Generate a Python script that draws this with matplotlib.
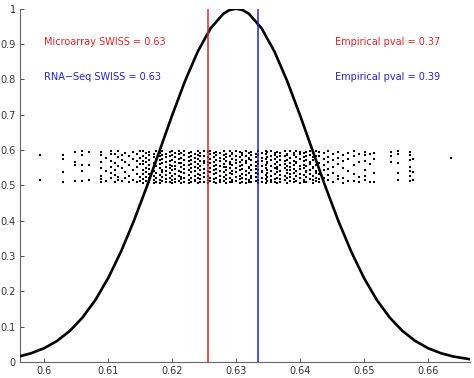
import matplotlib.pyplot as plt

# fitted curve
curve_x = [0.5962, 0.598, 0.600, 0.602, 0.604, 0.606, 0.608, 0.610, 0.612, 0.614,
           0.616, 0.618, 0.620, 0.622, 0.624, 0.626, 0.628, 0.629, 0.630, 0.631,
           0.632, 0.634, 0.636, 0.638, 0.640, 0.642, 0.644, 0.646, 0.648, 0.650,
           0.652, 0.654, 0.656, 0.658, 0.660, 0.662, 0.664, 0.6666]
curve_y = [0.0165, 0.0253, 0.0395, 0.0599, 0.0883, 0.1264, 0.1758, 0.2378, 0.3125, 0.3989,
           0.4947, 0.5963, 0.6983, 0.7947, 0.8787, 0.9441, 0.9857, 0.9964, 1.0, 0.9964,
           0.9857, 0.9441, 0.8787, 0.7947, 0.6983, 0.5963, 0.4947, 0.3989, 0.3125, 0.2378,
           0.1758, 0.1264, 0.0883, 0.0599, 0.0395, 0.0253, 0.0157, 0.0081]

micro_swiss = 0.6256
rnaseq_swiss = 0.6334

# permutation SWISS values, one list of jittered y values per x column
dot_cols = [0.5994, 0.6030, 0.6048, 0.6059, 0.6070, 0.6088, 0.6097, 0.6104, 0.6110, 0.6116,
            0.6121, 0.6127, 0.6133, 0.6139, 0.6145, 0.6150,
            0.6155, 0.6159, 0.6164, 0.6171, 0.6175, 0.6181, 0.6184, 0.6190, 0.6196, 0.6199,
            0.6204, 0.6211, 0.6214, 0.6219, 0.6226, 0.6229, 0.6235, 0.6241, 0.6244, 0.6250,
            0.6256, 0.6259, 0.6266, 0.6269, 0.6275, 0.6281, 0.6284, 0.6291, 0.6294, 0.6300,
            0.6306, 0.6309, 0.6316, 0.6320, 0.6324, 0.6331, 0.6334, 0.6340, 0.6346, 0.6349,
            0.6355, 0.6361, 0.6364, 0.6369, 0.6376, 0.6379, 0.6385, 0.6391, 0.6394, 0.6400,
            0.6406, 0.6409, 0.6415, 0.6421, 0.6425,
            0.6430, 0.6437, 0.6444, 0.6452, 0.6460, 0.6467, 0.6475, 0.6484, 0.6492, 0.6502,
            0.6510, 0.6515, 0.6542, 0.6553, 0.6572, 0.6577, 0.6636]
dot_ys = [
    [0.585, 0.515],
    [0.585, 0.574, 0.537, 0.511],
    [0.594, 0.565, 0.557, 0.512],
    [0.597, 0.585, 0.557, 0.540, 0.512],
    [0.594, 0.557, 0.514],
    [0.594, 0.585, 0.565, 0.548, 0.528, 0.517, 0.509],
    [0.578, 0.540, 0.512],
    [0.597, 0.588, 0.570, 0.552, 0.535, 0.520],
    [0.590, 0.562, 0.545, 0.530, 0.510],
    [0.596, 0.580, 0.556, 0.524, 0.515],
    [0.587, 0.571, 0.549, 0.512],
    [0.592, 0.566, 0.538, 0.520],
    [0.583, 0.559, 0.527, 0.509],
    [0.595, 0.575, 0.543, 0.516],
    [0.589, 0.568, 0.551, 0.533, 0.511],
    [0.597, 0.578, 0.560, 0.524, 0.513],
    # dense part
    [0.597, 0.583, 0.570, 0.561, 0.544, 0.531, 0.518, 0.508],
    [0.591, 0.578, 0.566, 0.550, 0.538, 0.524, 0.512],
    [0.595, 0.586, 0.573, 0.557, 0.547, 0.533, 0.520, 0.509],
    [0.589, 0.580, 0.563, 0.552, 0.541, 0.527, 0.514, 0.507],
    [0.596, 0.576, 0.568, 0.555, 0.536, 0.522, 0.511],
    [0.593, 0.584, 0.571, 0.560, 0.548, 0.529, 0.516, 0.508],
    [0.598, 0.587, 0.574, 0.562, 0.545, 0.539, 0.525, 0.513],
    [0.590, 0.579, 0.565, 0.553, 0.542, 0.530, 0.519, 0.509],
    [0.594, 0.582, 0.569, 0.558, 0.549, 0.534, 0.521, 0.510],
    [0.597, 0.585, 0.572, 0.556, 0.543, 0.528, 0.515, 0.507],
    [0.592, 0.581, 0.567, 0.554, 0.546, 0.532, 0.517, 0.510],
    [0.596, 0.588, 0.575, 0.563, 0.540, 0.526, 0.513],
    [0.591, 0.577, 0.564, 0.551, 0.539, 0.523, 0.518, 0.508],
    [0.598, 0.586, 0.571, 0.559, 0.547, 0.535, 0.522, 0.511],
    [0.593, 0.580, 0.568, 0.557, 0.544, 0.529, 0.514, 0.507],
    [0.595, 0.583, 0.573, 0.561, 0.548, 0.537, 0.520, 0.509],
    [0.590, 0.578, 0.566, 0.552, 0.541, 0.527, 0.516, 0.512],
    [0.597, 0.587, 0.574, 0.560, 0.550, 0.533, 0.521, 0.508],
    [0.592, 0.582, 0.569, 0.555, 0.543, 0.530, 0.517, 0.510],
    [0.596, 0.584, 0.570, 0.562, 0.546, 0.536, 0.524, 0.511],
    [0.594, 0.579, 0.567, 0.558, 0.542, 0.528, 0.515, 0.507],
    [0.598, 0.588, 0.576, 0.563, 0.549, 0.538, 0.522, 0.512],
    [0.591, 0.581, 0.565, 0.554, 0.545, 0.531, 0.519, 0.509],
    [0.595, 0.585, 0.572, 0.559, 0.547, 0.534, 0.520, 0.508],
    [0.593, 0.577, 0.568, 0.556, 0.540, 0.526, 0.516, 0.510],
    [0.597, 0.586, 0.574, 0.561, 0.551, 0.537, 0.523, 0.513],
    [0.590, 0.580, 0.570, 0.553, 0.544, 0.529, 0.518, 0.507],
    [0.596, 0.583, 0.567, 0.560, 0.548, 0.535, 0.521, 0.511],
    [0.592, 0.588, 0.575, 0.557, 0.542, 0.532, 0.514, 0.509],
    [0.598, 0.582, 0.571, 0.562, 0.550, 0.538, 0.525, 0.512],
    [0.594, 0.579, 0.566, 0.555, 0.545, 0.527, 0.517, 0.508],
    [0.591, 0.587, 0.573, 0.558, 0.546, 0.533, 0.522, 0.510],
    [0.597, 0.584, 0.569, 0.563, 0.541, 0.530, 0.519, 0.507],
    [0.593, 0.578, 0.576, 0.552, 0.549, 0.536, 0.515, 0.511],
    [0.595, 0.586, 0.572, 0.559, 0.543, 0.528, 0.520, 0.509],
    [0.590, 0.581, 0.565, 0.556, 0.547, 0.534, 0.524, 0.513],
    [0.598, 0.585, 0.570, 0.561, 0.544, 0.531, 0.516, 0.508],
    [0.592, 0.577, 0.568, 0.554, 0.540, 0.537, 0.521, 0.510],
    [0.596, 0.588, 0.574, 0.558, 0.550, 0.529, 0.518, 0.507],
    [0.594, 0.580, 0.567, 0.562, 0.545, 0.535, 0.523, 0.512],
    [0.597, 0.583, 0.571, 0.555, 0.542, 0.526, 0.514, 0.509],
    [0.591, 0.587, 0.575, 0.560, 0.548, 0.532, 0.519, 0.511],
    [0.595, 0.579, 0.566, 0.553, 0.546, 0.538, 0.522, 0.508],
    [0.593, 0.584, 0.572, 0.557, 0.541, 0.530, 0.517, 0.510],
    [0.598, 0.582, 0.569, 0.561, 0.549, 0.527, 0.515],
    [0.590, 0.586, 0.573, 0.556, 0.543, 0.534, 0.520, 0.507],
    [0.596, 0.578, 0.564, 0.552, 0.544, 0.531, 0.524, 0.512],
    [0.592, 0.585, 0.570, 0.559, 0.547, 0.536, 0.518, 0.509],
    [0.597, 0.581, 0.567, 0.562, 0.540, 0.528, 0.513],
    [0.594, 0.588, 0.574, 0.554, 0.546, 0.533, 0.521, 0.508],
    [0.591, 0.579, 0.568, 0.558, 0.550, 0.529, 0.516, 0.511],
    [0.595, 0.583, 0.571, 0.555, 0.542, 0.537, 0.523, 0.510],
    [0.598, 0.587, 0.565, 0.560, 0.545, 0.532, 0.519],
    [0.593, 0.580, 0.572, 0.553, 0.548, 0.526, 0.514, 0.507],
    [0.596, 0.584, 0.569, 0.557, 0.541, 0.535, 0.520, 0.512],
    # thinning out to the right
    [0.595, 0.583, 0.562, 0.548, 0.533, 0.518, 0.509],
    [0.592, 0.574, 0.557, 0.543, 0.522, 0.511],
    [0.597, 0.580, 0.565, 0.546, 0.530, 0.514],
    [0.589, 0.571, 0.552, 0.536, 0.510],
    [0.594, 0.578, 0.560, 0.527, 0.517],
    [0.586, 0.568, 0.549, 0.521, 0.508],
    [0.592, 0.575, 0.541, 0.513],
    [0.597, 0.583, 0.557, 0.532, 0.512],
    [0.590, 0.565, 0.524, 0.509],
    [0.595, 0.585, 0.570, 0.545, 0.528, 0.514],
    [0.588, 0.560, 0.511],
    [0.592, 0.576, 0.535, 0.510],
    [0.594, 0.582, 0.567],
    [0.596, 0.589, 0.562, 0.534, 0.514],
    [0.594, 0.585, 0.572, 0.552, 0.541, 0.527, 0.513],
    [0.575, 0.537, 0.516],
    [0.578],
]
assert len(dot_cols) == len(dot_ys)

fig = plt.figure(figsize=(4.74, 3.78), dpi=100)
ax = fig.add_axes([0.042, 0.042, 0.950, 0.935])

dx, dy = [], []
for x, ys in zip(dot_cols, dot_ys):
    dx += [x] * len(ys)
    dy += ys
ax.plot(dx, dy, "s", color="black", ms=1.6, mew=0, zorder=2)

ax.plot(curve_x, curve_y, color="black", lw=1.9, zorder=3)
ax.axvline(micro_swiss, color="#e2232c", lw=1.1, zorder=4)
ax.axvline(rnaseq_swiss, color="#2323d2", lw=1.1, zorder=4)

fs = 7
ax.text(0.5999, 0.906, "Microarray SWISS = 0.63", color="#e2232c", fontsize=fs, va="center")
ax.text(0.5999, 0.807, "RNA\u2212Seq SWISS = 0.63", color="#2323d2", fontsize=fs, va="center")
ax.text(0.6455, 0.906, "Empirical pval = 0.37", color="#e2232c", fontsize=fs, va="center")
ax.text(0.6455, 0.807, "Empirical pval = 0.39", color="#2323d2", fontsize=fs, va="center")

ax.set_xlim(0.5962, 0.6666)
ax.set_ylim(0, 1)
ax.set_xticks([0.6, 0.61, 0.62, 0.63, 0.64, 0.65, 0.66])
ax.set_xticklabels(["0.6", "0.61", "0.62", "0.63", "0.64", "0.65", "0.66"])
ax.set_yticks([0, 0.1, 0.2, 0.3, 0.4, 0.5, 0.6, 0.7, 0.8, 0.9, 1])
ax.set_yticklabels(["0", "0.1", "0.2", "0.3", "0.4", "0.5", "0.6", "0.7", "0.8", "0.9", "1"])
ax.tick_params(direction="in", length=3, width=0.6, labelsize=7, colors="#333333", pad=3)
ax.spines["top"].set_visible(False)
ax.spines["right"].set_visible(False)
for s in ["left", "bottom"]:
    ax.spines[s].set_color("#666666")
    ax.spines[s].set_linewidth(0.8)

fig.savefig("out.png", dpi=100)
